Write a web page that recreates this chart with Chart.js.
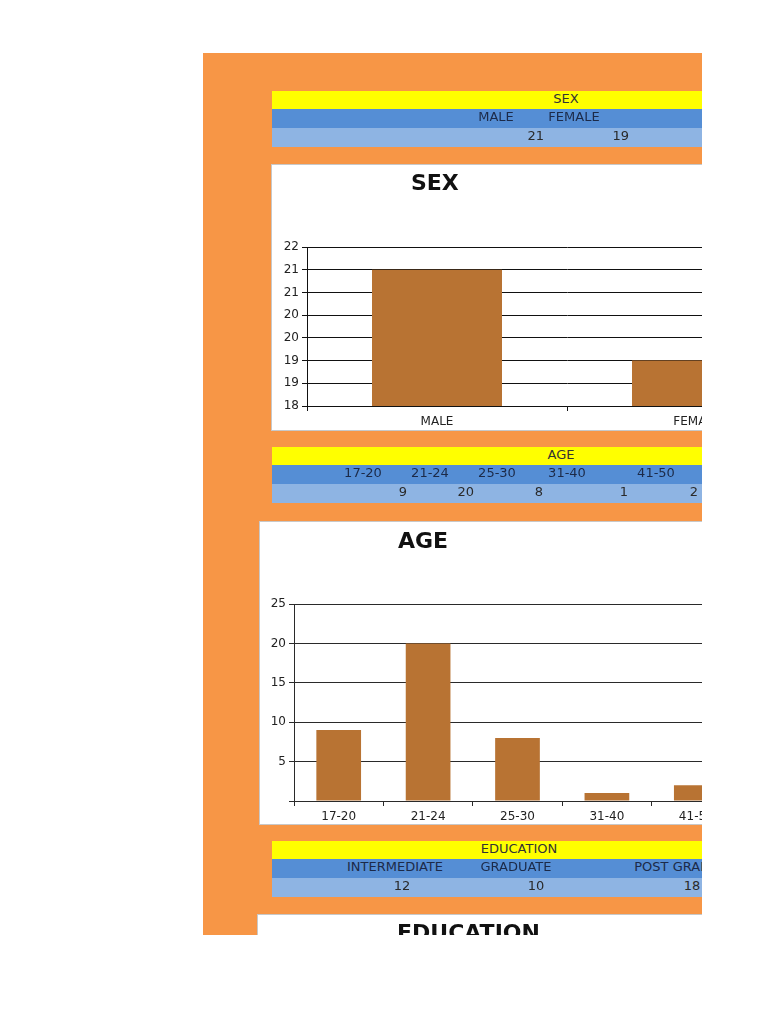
<!DOCTYPE html>
<html>
<head>
<meta charset="utf-8">
<script src="https://cdn.jsdelivr.net/npm/chart.js@4.4.1/dist/chart.umd.min.js"></script>
<style>
body { margin: 0; background: #fff; font-family: 'DejaVu Sans', sans-serif; }
#page { position: absolute; left: 0; top: 0; width: 702px; height: 935px; overflow: hidden; }
#sheet { position: absolute; left: 203px; top: 53px; width: 499px; height: 882px; background: #F79646; }
.row { position: absolute; left: 272px; width: 460px; height: 19px; }
.cell { position: absolute; font-size: 13px; line-height: 19px; white-space: nowrap; }
.box { position: absolute; background: #fff; box-shadow: 0 0 0 1px #c8c8c8; }
.title { position: absolute; font-weight: bold; font-size: 22px; line-height: 22px; color: #111; }
</style>
</head>
<body>
<div id="page">
    <div id="sheet"></div>

    <div class="box" style="left:272px;top:165px;width:565px;height:265px"><canvas id="sexChart"></canvas></div>
    <div class="title" style="left:411px;top:172px">SEX</div>

    <div class="box" style="left:260px;top:522px;width:491px;height:302px"><canvas id="ageChart"></canvas></div>
    <div class="title" style="left:398px;top:530px">AGE</div>

    <div class="box" style="left:258px;top:915px;width:520px;height:300px"><canvas id="eduChart"></canvas></div>
    <div class="title" style="left:397px;top:922px">EDUCATION</div>
</div>

<script>
// data
const sexLabels = ["MALE", "FEMALE"];
const sexCounts = [21, 19];
const ageLabels = ["17-20", "21-24", "25-30", "31-40", "41-50"];
const ageCounts = [9, 20, 8, 1, 2];
const eduLabels = ["INTERMEDIATE", "GRADUATE", "POST GRADUATE"];
const eduCounts = [12, 10, 18];

// where the spreadsheet cells sit (page x)
const sexLabelX = [496, 574];
const sexValueX = [544, 629];
const ageLabelX = [363, 430, 497, 567, 656];
const ageValueX = [407, 474, 543, 628, 698];
const eduLabelX = [395, 516, 689];
const eduValueX = [402, 536, 692];

const page = document.getElementById('page');

function addRow(top, height, color) {
    const row = document.createElement('div');
    row.className = 'row';
    row.style.top = top + 'px';
    row.style.height = height + 'px';
    row.style.background = color;
    page.appendChild(row);
}

function addCell(text, x, top, align, color) {
    const cell = document.createElement('div');
    cell.className = 'cell';
    cell.textContent = text;
    cell.style.left = x + 'px';
    cell.style.top = (top - 2) + 'px';
    cell.style.color = color;
    if (align === 'center') cell.style.transform = 'translateX(-50%)';
    if (align === 'right') cell.style.transform = 'translateX(-100%)';
    page.appendChild(cell);
}

function makeTable(top, title, titleX, labels, labelX, values, valueX, valueAlign) {
    addRow(top, 18, '#FFFF00');
    addRow(top + 18, 19, '#558ED5');
    addRow(top + 37, 19, '#8EB4E3');
    addCell(title, titleX, top, 'center', '#333');
    labels.forEach((l, i) => addCell(l, labelX[i], top + 18, 'center', '#1c2a48'));
    values.forEach((v, i) => addCell(String(v), valueX[i], top + 37, valueAlign, '#2a2a2a'));
}

makeTable(91, "SEX", 566, sexLabels, sexLabelX, sexCounts, sexValueX, 'right');
makeTable(447, "AGE", 561, ageLabels, ageLabelX, ageCounts, ageValueX, 'right');
makeTable(841, "EDUCATION", 519, eduLabels, eduLabelX, eduCounts, eduValueX, 'center');

// charts
const tickFont = { family: 'DejaVu Sans', size: 12 };

function barChart(id, labels, data, yScale, yWidth, xHeight, lineColor) {
    return new Chart(document.getElementById(id), {
        type: 'bar',
        data: {
            labels: labels,
            datasets: [{
                data: data,
                backgroundColor: '#B87333',
                borderWidth: 0,
                barPercentage: 0.5,
                categoryPercentage: 1
            }]
        },
        options: {
            responsive: true,
            maintainAspectRatio: false,
            animation: false,
            layout: { padding: { top: 82, right: 10, left: 0, bottom: 0 } },
            plugins: { legend: { display: false }, title: { display: false }, tooltip: { enabled: false } },
            scales: {
                x: {
                    grid: { drawOnChartArea: false, drawTicks: true, tickLength: 5, color: lineColor },
                    border: { color: lineColor },
                    ticks: { font: tickFont, color: '#222', padding: 4, maxRotation: 0 },
                    afterFit: s => { s.height = xHeight; }
                },
                y: Object.assign({
                    grid: { color: lineColor, tickLength: 5 },
                    border: { color: lineColor },
                    afterFit: s => { s.width = yWidth; }
                }, yScale)
            }
        }
    });
}

barChart('sexChart', sexLabels, sexCounts, {
    min: 18, max: 21.5,
    ticks: { stepSize: 0.5, font: tickFont, color: '#222', padding: 3, callback: v => Math.round(v) }
}, 35, 24, '#111');

barChart('ageChart', ageLabels, ageCounts, {
    min: 0, max: 25,
    ticks: { stepSize: 5, font: tickFont, color: '#222', padding: 3, callback: v => v === 0 ? '' : v }
}, 34, 23, '#2a2a2a');

barChart('eduChart', eduLabels, eduCounts, {
    min: 0, max: 20,
    ticks: { stepSize: 5, font: tickFont, color: '#222', padding: 3 }
}, 34, 23, '#2a2a2a');
</script>
</body>
</html>
